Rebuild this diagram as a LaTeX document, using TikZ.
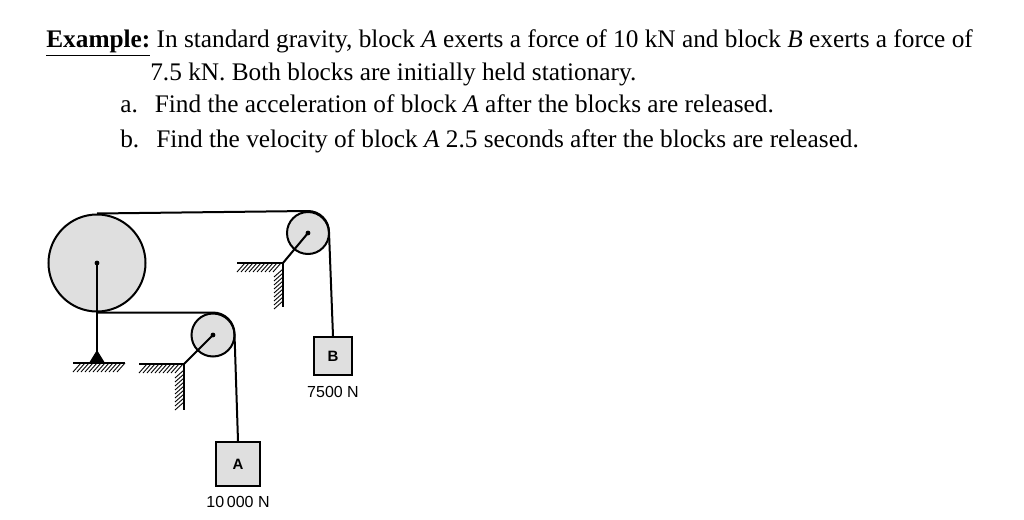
\documentclass[tikz,border=0pt]{standalone}
\usepackage{fontspec}
\setmainfont{Liberation Serif}
\newfontfamily\labelfont{Liberation Sans}
\usepackage{xcolor}
\newcommand{\hatchh}[4]{\foreach \k in {#1,#2,...,#3} \draw[line width=0.9pt] (\k+3,#4) -- (\k-5,#4+9);}
\newcommand{\hatchv}[4]{\foreach \k in {#2,#3,...,#4} \draw[line width=0.9pt] (#1,\k-3) -- (#1-9,\k+5);}

\begin{document}
\begin{tikzpicture}[x=1pt,y=-1pt,line width=2pt,
    txt/.style={anchor=base west,font=\fontsize{25.3}{30}\selectfont},
    pulley/.style={circle,draw,fill=gray!25,inner sep=0pt},
    block/.style={draw,fill=gray!25,minimum size=#1,inner sep=0pt,font=\labelfont\bfseries\fontsize{15}{18}\selectfont},
    weight/.style={font=\labelfont\fontsize{16}{19}\selectfont}]
    \useasboundingbox (0,0) rectangle (1024,519);

    % problem text
    \node[txt] (l1) at (42,48) {\underline{\textbf{Example:}} In standard gravity, block \textit{A} exerts a force of 10 kN and block \textit{B} exerts a force of};
    \node[txt] (l2) at (146,80) {7.5 kN. Both blocks are initially held stationary.};
    \node[txt] (l3) at (116,112) {a.\hspace{17pt}Find the acceleration of block \textit{A} after the blocks are released.};
    \node[txt] (l4) at (116,147) {b.\hspace{17pt}Find the velocity of block \textit{A} 2.5 seconds after the blocks are released.};

    % pulleys and blocks
    \node[pulley,minimum size=97] (big) at (97,263) {};
    \node[pulley,minimum size=42] (pb) at (308,233) {};
    \node[pulley,minimum size=43] (pa) at (213,335) {};
    \node[block=38] (B) at (333,356) {B};
    \node[block=44] (A) at (238,464) {A};
    \node[weight] (wB) at (333,392) {7500 N};
    \node[weight] (wA) at (238,502) {10\,000 N};

    % supports
    \coordinate (cb) at (283,263);
    \coordinate (ca) at (184,364);
    \draw (237,263) -- (cb) -- (283,307);
    \draw (139,364) -- (ca) -- (184,410);
    \hatchh{242}{246}{280}{263}
    \hatchv{283}{272}{276}{304}
    \hatchh{144}{148}{180}{364}
    \hatchv{184}{373}{377}{405}
    \draw (cb) -- (pb.center);
    \draw (ca) -- (pa.center);
    \draw (73,363) -- (125,363);
    \hatchh{78}{82}{122}{363}
    \draw (big.center) -- (97,363);
    \fill (97,350) -- (89,363) -- (105,363) -- cycle;
    \fill (big.center) circle (2.4);
    \fill (pb.center) circle (2.4);
    \fill (pa.center) circle (2.4);

    % ropes
    \draw (big.north) -- (pb.north) arc[start angle=270,end angle=360,radius=21] -- (B.north);
    \draw (big.south) -- (pa.north) arc[start angle=270,end angle=360,radius=21.5] -- (A.north);
\end{tikzpicture}
\end{document}
